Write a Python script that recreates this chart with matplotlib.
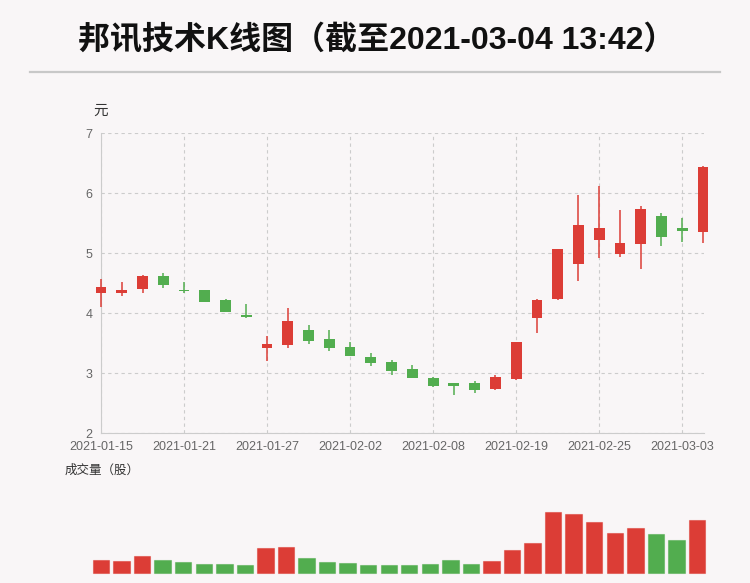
"""K-line chart for 邦讯技术 with volume bars."""

import matplotlib
matplotlib.use('Agg')
import matplotlib.pyplot as plt
import numpy as np

plt.rcParams['font.family'] = ['Liberation Sans', 'Noto Sans CJK SC', 'DejaVu Sans']

dates = ['2021-01-15', '2021-01-18', '2021-01-19', '2021-01-20', '2021-01-21',
         '2021-01-22', '2021-01-25', '2021-01-26', '2021-01-27', '2021-01-28',
         '2021-01-29', '2021-02-01', '2021-02-02', '2021-02-03', '2021-02-04',
         '2021-02-05', '2021-02-08', '2021-02-09', '2021-02-10', '2021-02-18',
         '2021-02-19', '2021-02-22', '2021-02-23', '2021-02-24', '2021-02-25',
         '2021-02-26', '2021-03-01', '2021-03-02', '2021-03-03', '2021-03-04']

opens = [4.34, 4.33, 4.40, 4.62, 4.39, 4.38, 4.21, 3.96, 3.41, 3.46,
         3.72, 3.57, 3.43, 3.27, 3.19, 3.07, 2.92, 2.83, 2.84, 2.74,
         2.90, 3.91, 4.23, 4.81, 5.22, 4.99, 5.15, 5.61, 5.41, 5.35]
closes = [4.44, 4.39, 4.62, 4.46, 4.37, 4.19, 4.01, 3.93, 3.49, 3.87,
          3.54, 3.41, 3.29, 3.16, 3.03, 2.92, 2.78, 2.78, 2.71, 2.94,
          3.51, 4.22, 5.06, 5.46, 5.41, 5.16, 5.74, 5.26, 5.36, 6.44]
highs = [4.56, 4.52, 4.63, 4.66, 4.51, 4.39, 4.24, 4.15, 3.62, 4.08,
         3.80, 3.71, 3.51, 3.34, 3.22, 3.14, 2.94, 2.84, 2.86, 2.96,
         3.52, 4.23, 5.07, 5.96, 6.11, 5.72, 5.78, 5.67, 5.59, 6.45]
lows = [4.10, 4.28, 4.33, 4.41, 4.33, 4.18, 4.01, 3.91, 3.20, 3.41,
        3.49, 3.36, 3.28, 3.12, 2.96, 2.91, 2.76, 2.64, 2.66, 2.72,
        2.89, 3.66, 4.21, 4.53, 4.91, 4.93, 4.74, 5.11, 5.18, 5.16]

# volume in 10k shares (read relative to the bar heights)
volumes = [40, 35, 51, 38, 32, 28, 28, 24, 74, 77,
           46, 34, 29, 25, 25, 23, 28, 40, 28, 36,
           69, 89, 182, 176, 154, 119, 134, 118, 98, 158]

RED = '#dc3d36'
GREEN = '#52ad4f'
BG = '#f9f6f7'

x = np.arange(len(dates))
colors = [RED if c >= o else GREEN for o, c in zip(opens, closes)]

fig = plt.figure(figsize=(7.5, 5.83), dpi=100, facecolor=BG)

# title and separator line
fig.text(0.502, 0.93, '邦讯技术K线图（截至2021-03-04 13:42）', ha='center', va='center',
         fontsize=23, fontweight='bold', color='#111111')
fig.add_artist(plt.Line2D([30 / 750, 720 / 750], [1 - 72 / 583] * 2, color='#c8c8c8', linewidth=1.6))

# price axes
ax = fig.add_axes([101 / 750, 150 / 583, 603 / 750, 300 / 583])
ax.set_facecolor(BG)
ax.vlines(x, lows, highs, colors=colors, linewidth=1.1, zorder=3, clip_on=False)
bottoms = np.minimum(opens, closes)
heights = np.maximum(np.abs(np.array(closes) - np.array(opens)), 0.02)
ax.bar(x, heights, bottom=bottoms, width=0.52, color=colors, zorder=4, clip_on=False)

ax.set_xlim(0, 29.05)
ax.set_ylim(2, 7)
ax.set_yticks([2, 3, 4, 5, 6, 7])
ax.set_xticks(x[::4])
ax.set_xticklabels(dates[::4])
ax.tick_params(length=0, labelsize=9, colors='#666666', pad=6)
ax.grid(True, color='#cccccc', linestyle=(0, (3, 3)), linewidth=0.8, zorder=0)
for side in ['top', 'right']:
    ax.spines[side].set_visible(False)
for side in ['left', 'bottom']:
    ax.spines[side].set_color('#cccccc')
ax.text(0, 1.073, '元', transform=ax.transAxes, ha='center', va='center',
        fontsize=10.5, color='#333333')

# volume axes
vax = fig.add_axes([101 / 750, 10 / 583, 603 / 750, 93 / 583])
vax.set_facecolor(BG)
vax.bar(x, volumes, width=0.8, color=colors, edgecolor=[c + '88' for c in colors],
        linewidth=0.8, clip_on=False)
vax.set_xlim(0, 29 * 603 / 596)
vax.set_ylim(0, max(volumes) * 1.53)
vax.axis('off')
fig.text(65 / 750, 1 - 471 / 583, '成交量（股）', ha='left', va='center', fontsize=9, color='#333333')

fig.savefig('out.png', dpi=100, facecolor=BG)
